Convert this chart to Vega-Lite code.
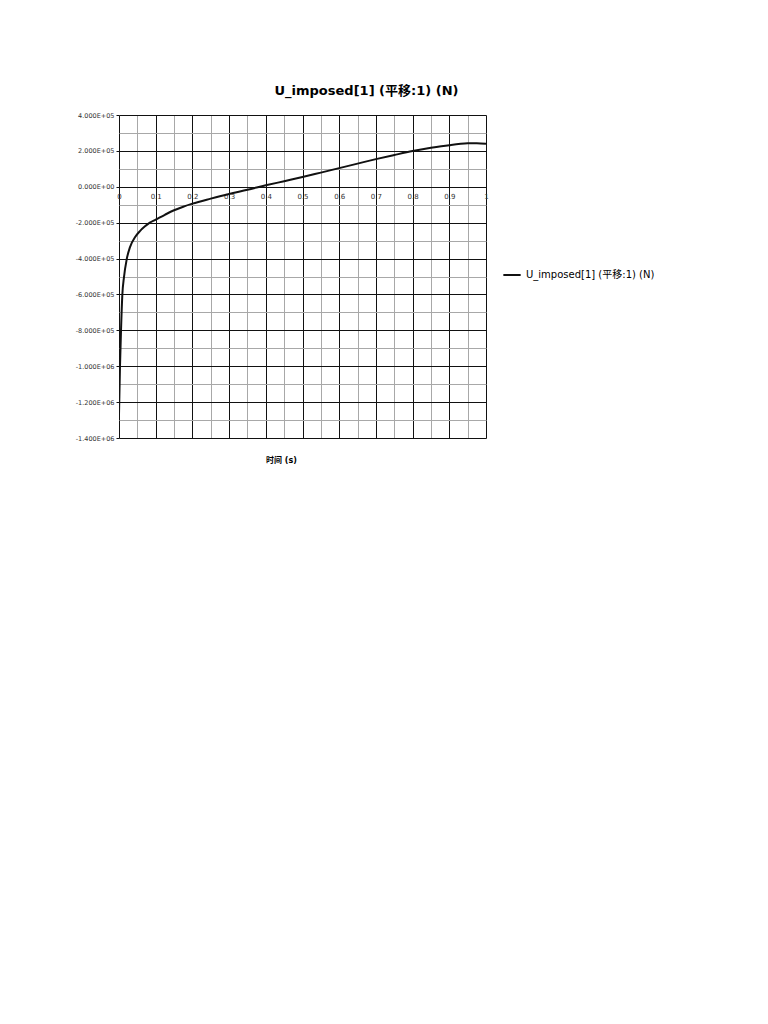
{
  "$schema": "https://vega.github.io/schema/vega-lite/v6.json",
  "autosize": {"type": "none"},
  "padding": {"left": 119, "top": 115, "right": 282, "bottom": 586},
  "width": 367,
  "height": 323,
  "background": "white",
  "title": {
    "text": "U_imposed[1] (平移:1) (N)",
    "font": "DejaVu Sans, Noto Sans CJK SC",
    "fontSize": 13,
    "fontWeight": "bold",
    "color": "black",
    "anchor": "middle",
    "dx": 64,
    "offset": 14
  },
  "data": {
    "values": [
      {"t": 0, "u": -1270000, "series": "U_imposed[1] (平移:1) (N)"},
      {"t": 0.0027, "u": -1000000, "series": "U_imposed[1] (平移:1) (N)"},
      {"t": 0.0055, "u": -800000, "series": "U_imposed[1] (平移:1) (N)"},
      {"t": 0.009, "u": -605000, "series": "U_imposed[1] (平移:1) (N)"},
      {"t": 0.0136, "u": -503000, "series": "U_imposed[1] (平移:1) (N)"},
      {"t": 0.021, "u": -404000, "series": "U_imposed[1] (平移:1) (N)"},
      {"t": 0.03, "u": -336000, "series": "U_imposed[1] (平移:1) (N)"},
      {"t": 0.044, "u": -280000, "series": "U_imposed[1] (平移:1) (N)"},
      {"t": 0.057, "u": -247000, "series": "U_imposed[1] (平移:1) (N)"},
      {"t": 0.07, "u": -222000, "series": "U_imposed[1] (平移:1) (N)"},
      {"t": 0.084, "u": -200000, "series": "U_imposed[1] (平移:1) (N)"},
      {"t": 0.1, "u": -183000, "series": "U_imposed[1] (平移:1) (N)"},
      {"t": 0.125, "u": -156000, "series": "U_imposed[1] (平移:1) (N)"},
      {"t": 0.15, "u": -131000, "series": "U_imposed[1] (平移:1) (N)"},
      {"t": 0.175, "u": -111000, "series": "U_imposed[1] (平移:1) (N)"},
      {"t": 0.2, "u": -94000, "series": "U_imposed[1] (平移:1) (N)"},
      {"t": 0.25, "u": -66000, "series": "U_imposed[1] (平移:1) (N)"},
      {"t": 0.3, "u": -40000, "series": "U_imposed[1] (平移:1) (N)"},
      {"t": 0.35, "u": -17000, "series": "U_imposed[1] (平移:1) (N)"},
      {"t": 0.4, "u": 8000, "series": "U_imposed[1] (平移:1) (N)"},
      {"t": 0.45, "u": 31000, "series": "U_imposed[1] (平移:1) (N)"},
      {"t": 0.5, "u": 54000, "series": "U_imposed[1] (平移:1) (N)"},
      {"t": 0.55, "u": 79000, "series": "U_imposed[1] (平移:1) (N)"},
      {"t": 0.6, "u": 104000, "series": "U_imposed[1] (平移:1) (N)"},
      {"t": 0.65, "u": 129000, "series": "U_imposed[1] (平移:1) (N)"},
      {"t": 0.7, "u": 154000, "series": "U_imposed[1] (平移:1) (N)"},
      {"t": 0.75, "u": 177000, "series": "U_imposed[1] (平移:1) (N)"},
      {"t": 0.8, "u": 199000, "series": "U_imposed[1] (平移:1) (N)"},
      {"t": 0.85, "u": 217000, "series": "U_imposed[1] (平移:1) (N)"},
      {"t": 0.9, "u": 232000, "series": "U_imposed[1] (平移:1) (N)"},
      {"t": 0.95, "u": 242000, "series": "U_imposed[1] (平移:1) (N)"},
      {"t": 0.975, "u": 243000, "series": "U_imposed[1] (平移:1) (N)"},
      {"t": 1, "u": 240000, "series": "U_imposed[1] (平移:1) (N)"}
    ]
  },
  "mark": {"type": "line", "interpolate": "monotone", "strokeWidth": 2, "clip": true},
  "encoding": {
    "x": {
      "field": "t",
      "type": "quantitative",
      "scale": {"domain": [0, 1], "nice": false, "zero": false},
      "axis": {
        "title": "时间 (s)",
        "titleFont": "DejaVu Sans, Noto Sans CJK SC",
        "titleFontSize": 8,
        "titleFontWeight": "bold",
        "titleColor": "black",
        "titleX": 162,
        "titleY": 270,
        "titleAlign": "center",
        "titleBaseline": "top",
        "values": [0, 0.05, 0.1, 0.15, 0.2, 0.25, 0.3, 0.35, 0.4, 0.45, 0.5, 0.55, 0.6, 0.65, 0.7, 0.75, 0.8, 0.85, 0.9, 0.95, 1],
        "format": "~g",
        "labelExpr": "round(datum.value * 20) % 2 === 0 ? datum.label : ''",
        "labelFont": "DejaVu Sans",
        "labelFontSize": 7,
        "labelColor": "#333",
        "labelPadding": 6,
        "labelFlush": false,
        "labelOverlap": false,
        "offset": -251.2,
        "domain": false,
        "ticks": false,
        "grid": true,
        "gridOpacity": 1,
        "gridWidth": 1,
        "gridColor": {"condition": {"test": "round(datum.value * 20) % 2 === 0", "value": "#111"}, "value": "#a8a8a8"}
      }
    },
    "y": {
      "field": "u",
      "type": "quantitative",
      "scale": {"domain": [-1400000, 400000], "nice": false, "zero": false},
      "axis": {
        "title": null,
        "values": [-1400000, -1300000, -1200000, -1100000, -1000000, -900000, -800000, -700000, -600000, -500000, -400000, -300000, -200000, -100000, 0, 100000, 200000, 300000, 400000],
        "labelExpr": "datum.value % 200000 === 0 ? replace(replace(replace(upper(format(datum.value, '.3e')), 'E+', 'E+0'), 'E-', 'E-0'), '−', '-') : ''",
        "labelFont": "DejaVu Sans",
        "labelFontSize": 6.5,
        "labelColor": "#333",
        "labelPadding": 2,
        "labelOverlap": false,
        "labelFlush": false,
        "domain": false,
        "tickSize": 3,
        "tickColor": "#111",
        "tickOpacity": {"condition": {"test": "datum.value % 200000 === 0", "value": 1}, "value": 0},
        "grid": true,
        "gridOpacity": 1,
        "gridWidth": 1,
        "gridColor": {"condition": {"test": "datum.value % 200000 === 0", "value": "#111"}, "value": "#a8a8a8"}
      }
    },
    "color": {
      "field": "series",
      "type": "nominal",
      "scale": {"range": ["#111"]},
      "legend": {
        "title": null,
        "orient": "none",
        "legendX": 383,
        "legendY": 150,
        "symbolType": "stroke",
        "symbolStrokeWidth": 2,
        "symbolSize": 300,
        "labelFont": "DejaVu Sans, Noto Sans CJK SC",
        "labelFontSize": 10,
        "labelColor": "black",
        "labelLimit": 300
      }
    }
  },
  "config": {
    "view": {"stroke": null}
  }
}
